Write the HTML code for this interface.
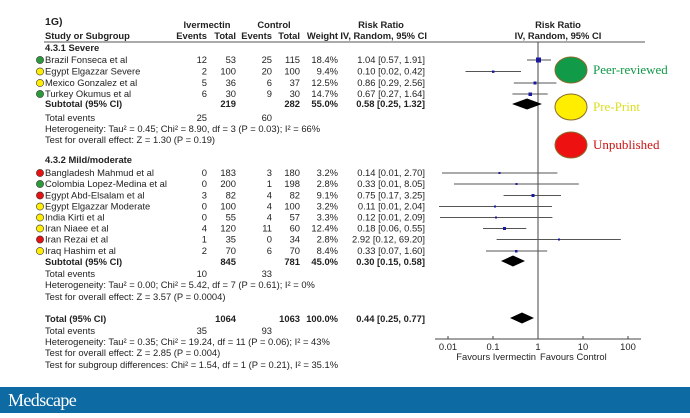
<!DOCTYPE html><html><head><style>body{margin:0;width:690px;height:413px;overflow:hidden;background:#fff}svg text{font-family:"Liberation Sans",sans-serif;font-size:9.4px;fill:#222}.b{font-weight:bold}.r{text-anchor:end}.c{text-anchor:middle}</style></head><body>
<svg width="690" height="413" viewBox="0 0 690 413" xmlns="http://www.w3.org/2000/svg">
<text x="45" y="25" class="b" style="font-size:10.5px">1G)</text>
<text x="207" y="28" class="c b">Ivermectin</text>
<text x="274" y="28" class="c b">Control</text>
<text x="381" y="28" class="c b">Risk Ratio</text>
<text x="558" y="28" class="c b">Risk Ratio</text>
<text x="45" y="39" class="b">Study or Subgroup</text>
<text x="207" y="39" class="r b">Events</text><text x="236" y="39" class="r b">Total</text>
<text x="272" y="39" class="r b">Events</text><text x="300" y="39" class="r b">Total</text>
<text x="338" y="39" class="r b">Weight</text><text x="427" y="39" class="r b">IV, Random, 95% CI</text>
<text x="558" y="39" class="c b">IV, Random, 95% CI</text>
<line x1="44" y1="42" x2="645" y2="42" stroke="#555" stroke-width="1"/>
<line x1="538" y1="42" x2="538" y2="339" stroke="#444" stroke-width="1"/>
<text x="45" y="51" class="b">4.3.1 Severe</text>
<text x="45" y="107" class="b">Subtotal (95% CI)</text><text x="236" y="107" class="r b">219</text><text x="300" y="107" class="r b">282</text><text x="338" y="107" class="r b">55.0%</text><text x="425" y="107" class="r b">0.58 [0.25, 1.32]</text>
<text x="45" y="121">Total events</text><text x="207" y="121" class="r">25</text><text x="272" y="121" class="r">60</text>
<text x="45" y="132">Heterogeneity: Tau² = 0.45; Chi² = 8.90, df = 3 (P = 0.03); I² = 66%</text>
<text x="45" y="143">Test for overall effect: Z = 1.30 (P = 0.19)</text>
<text x="45" y="163" class="b">4.3.2 Mild/moderate</text>
<text x="45" y="265" class="b">Subtotal (95% CI)</text><text x="236" y="265" class="r b">845</text><text x="300" y="265" class="r b">781</text><text x="338" y="265" class="r b">45.0%</text><text x="425" y="265" class="r b">0.30 [0.15, 0.58]</text>
<text x="45" y="277">Total events</text><text x="207" y="277" class="r">10</text><text x="272" y="277" class="r">33</text>
<text x="45" y="288">Heterogeneity: Tau² = 0.00; Chi² = 5.42, df = 7 (P = 0.61); I² = 0%</text>
<text x="45" y="300">Test for overall effect: Z = 3.57 (P = 0.0004)</text>
<text x="45" y="322" class="b">Total (95% CI)</text><text x="236" y="322" class="r b">1064</text><text x="300" y="322" class="r b">1063</text><text x="338" y="322" class="r b">100.0%</text><text x="425" y="322" class="r b">0.44 [0.25, 0.77]</text>
<text x="45" y="334">Total events</text><text x="207" y="334" class="r">35</text><text x="272" y="334" class="r">93</text>
<text x="45" y="345">Heterogeneity: Tau² = 0.35; Chi² = 19.24, df = 11 (P = 0.06); I² = 43%</text>
<text x="45" y="356">Test for overall effect: Z = 2.85 (P = 0.004)</text>
<text x="45" y="368">Test for subgroup differences: Chi² = 1.54, df = 1 (P = 0.21), I² = 35.1%</text>

<g>
<circle cx="40" cy="60" r="3.6" fill="#2a9a3a" stroke="#333" stroke-width=".6"/><text x="45" y="63">Brazil Fonseca et al</text><text x="207" y="63" class="r">12</text><text x="236" y="63" class="r">53</text><text x="272" y="63" class="r">25</text><text x="300" y="63" class="r">115</text><text x="338" y="63" class="r">18.4%</text><text x="425" y="63" class="r">1.04 [0.57, 1.91]</text>
<circle cx="40" cy="71.5" r="3.6" fill="#ffee00" stroke="#333" stroke-width=".6"/><text x="45" y="74.5">Egypt Elgazzar Severe</text><text x="207" y="74.5" class="r">2</text><text x="236" y="74.5" class="r">100</text><text x="272" y="74.5" class="r">20</text><text x="300" y="74.5" class="r">100</text><text x="338" y="74.5" class="r">9.4%</text><text x="425" y="74.5" class="r">0.10 [0.02, 0.42]</text>
<circle cx="40" cy="83" r="3.6" fill="#ffee00" stroke="#333" stroke-width=".6"/><text x="45" y="86">Mexico Gonzalez et al</text><text x="207" y="86" class="r">5</text><text x="236" y="86" class="r">36</text><text x="272" y="86" class="r">6</text><text x="300" y="86" class="r">37</text><text x="338" y="86" class="r">12.5%</text><text x="425" y="86" class="r">0.86 [0.29, 2.56]</text>
<circle cx="40" cy="94" r="3.6" fill="#2a9a3a" stroke="#333" stroke-width=".6"/><text x="45" y="97">Turkey Okumus et al</text><text x="207" y="97" class="r">6</text><text x="236" y="97" class="r">30</text><text x="272" y="97" class="r">9</text><text x="300" y="97" class="r">30</text><text x="338" y="97" class="r">14.7%</text><text x="425" y="97" class="r">0.67 [0.27, 1.64]</text>

<circle cx="40" cy="173" r="3.6" fill="#e81010" stroke="#333" stroke-width=".6"/><text x="45" y="176">Bangladesh Mahmud et al</text><text x="207" y="176" class="r">0</text><text x="236" y="176" class="r">183</text><text x="272" y="176" class="r">3</text><text x="300" y="176" class="r">180</text><text x="338" y="176" class="r">3.2%</text><text x="425" y="176" class="r">0.14 [0.01, 2.70]</text>
<circle cx="40" cy="184" r="3.6" fill="#2a9a3a" stroke="#333" stroke-width=".6"/><text x="45" y="187">Colombia Lopez-Medina et al</text><text x="207" y="187" class="r">0</text><text x="236" y="187" class="r">200</text><text x="272" y="187" class="r">1</text><text x="300" y="187" class="r">198</text><text x="338" y="187" class="r">2.8%</text><text x="425" y="187" class="r">0.33 [0.01, 8.05]</text>
<circle cx="40" cy="195.5" r="3.6" fill="#e81010" stroke="#333" stroke-width=".6"/><text x="45" y="198.5">Egypt Abd-Elsalam et al</text><text x="207" y="198.5" class="r">3</text><text x="236" y="198.5" class="r">82</text><text x="272" y="198.5" class="r">4</text><text x="300" y="198.5" class="r">82</text><text x="338" y="198.5" class="r">9.1%</text><text x="425" y="198.5" class="r">0.75 [0.17, 3.25]</text>
<circle cx="40" cy="206.5" r="3.6" fill="#ffee00" stroke="#333" stroke-width=".6"/><text x="45" y="209.5">Egypt Elgazzar Moderate</text><text x="207" y="209.5" class="r">0</text><text x="236" y="209.5" class="r">100</text><text x="272" y="209.5" class="r">4</text><text x="300" y="209.5" class="r">100</text><text x="338" y="209.5" class="r">3.2%</text><text x="425" y="209.5" class="r">0.11 [0.01, 2.04]</text>
<circle cx="40" cy="217.5" r="3.6" fill="#ffee00" stroke="#333" stroke-width=".6"/><text x="45" y="220.5">India Kirti et al</text><text x="207" y="220.5" class="r">0</text><text x="236" y="220.5" class="r">55</text><text x="272" y="220.5" class="r">4</text><text x="300" y="220.5" class="r">57</text><text x="338" y="220.5" class="r">3.3%</text><text x="425" y="220.5" class="r">0.12 [0.01, 2.09]</text>
<circle cx="40" cy="228.5" r="3.6" fill="#ffee00" stroke="#333" stroke-width=".6"/><text x="45" y="231.5">Iran Niaee et al</text><text x="207" y="231.5" class="r">4</text><text x="236" y="231.5" class="r">120</text><text x="272" y="231.5" class="r">11</text><text x="300" y="231.5" class="r">60</text><text x="338" y="231.5" class="r">12.4%</text><text x="425" y="231.5" class="r">0.18 [0.06, 0.55]</text>
<circle cx="40" cy="239.5" r="3.6" fill="#e81010" stroke="#333" stroke-width=".6"/><text x="45" y="242.5">Iran Rezai et al</text><text x="207" y="242.5" class="r">1</text><text x="236" y="242.5" class="r">35</text><text x="272" y="242.5" class="r">0</text><text x="300" y="242.5" class="r">34</text><text x="338" y="242.5" class="r">2.8%</text><text x="425" y="242.5" class="r">2.92 [0.12, 69.20]</text>
<circle cx="40" cy="251" r="3.6" fill="#ffee00" stroke="#333" stroke-width=".6"/><text x="45" y="254">Iraq Hashim et al</text><text x="207" y="254" class="r">2</text><text x="236" y="254" class="r">70</text><text x="272" y="254" class="r">6</text><text x="300" y="254" class="r">70</text><text x="338" y="254" class="r">8.4%</text><text x="425" y="254" class="r">0.33 [0.07, 1.60]</text>
</g>

<g stroke="#555" stroke-width="0.9">
<line x1="527" y1="60" x2="551" y2="60"/>
<line x1="465.5" y1="71.5" x2="521" y2="71.5"/>
<line x1="513.8" y1="83" x2="556.4" y2="83"/>
<line x1="512.4" y1="94" x2="547.7" y2="94"/>
<line x1="442" y1="173" x2="557.4" y2="173"/>
<line x1="454" y1="184" x2="578.8" y2="184"/>
<line x1="503.6" y1="195.5" x2="561" y2="195.5"/>
<line x1="439" y1="206.5" x2="552" y2="206.5"/>
<line x1="440" y1="217.5" x2="552.4" y2="217.5"/>
<line x1="483" y1="228.5" x2="526.3" y2="228.5"/>
<line x1="496.6" y1="239.5" x2="620.8" y2="239.5"/>
<line x1="486" y1="251" x2="547.2" y2="251"/>
</g>
<g fill="#1a1aa0">
<rect x="536" y="57.5" width="5" height="5"/>
<rect x="492" y="70.5" width="2.4" height="2.4"/>
<rect x="533.5" y="81.5" width="3" height="3"/>
<rect x="528.5" y="92.5" width="3.5" height="3.5"/>
<rect x="498.5" y="172" width="2" height="2"/>
<rect x="515.5" y="183" width="2" height="2"/>
<rect x="531.5" y="194" width="3" height="3"/>
<rect x="494" y="205.5" width="2" height="2"/>
<rect x="495" y="216.5" width="2" height="2"/>
<rect x="503" y="227" width="3" height="3"/>
<rect x="558" y="238.5" width="2" height="2"/>
<rect x="515" y="250" width="2.5" height="2.5"/>
</g>
<g fill="#000">
<polygon points="512,104 527,98.5 542,104 527,109.5"/>
<polygon points="501,261 513,255.5 525,261 513,266.5"/>
<polygon points="510,318 522,312.5 534,318 522,323.5"/>
</g>
<line x1="435" y1="339" x2="641" y2="339" stroke="#444" stroke-width="1"/>
<g stroke="#444"><line x1="448" y1="336" x2="448" y2="339"/><line x1="493" y1="336" x2="493" y2="339"/><line x1="538" y1="336" x2="538" y2="339"/><line x1="583" y1="336" x2="583" y2="339"/><line x1="628" y1="336" x2="628" y2="339"/></g>
<text x="448" y="350" class="c">0.01</text><text x="493" y="350" class="c">0.1</text><text x="538" y="350" class="c">1</text><text x="583" y="350" class="c">10</text><text x="628" y="350" class="c">100</text>
<text x="536" y="360" class="r">Favours Ivermectin</text><text x="540" y="360">Favours Control</text>
<ellipse cx="571" cy="70" rx="16" ry="13" fill="#119a48" stroke="#8a6a2a" stroke-width="1"/>
<ellipse cx="571" cy="107" rx="16" ry="13" fill="#ffee00" stroke="#8a6a2a" stroke-width="1"/>
<ellipse cx="571" cy="145" rx="16" ry="13" fill="#ee1111" stroke="#8a6a2a" stroke-width="1"/>
<text x="593" y="74" style="font-family:'Liberation Serif',serif;font-size:13px;fill:#119a48">Peer-reviewed</text>
<text x="593" y="111" style="font-family:'Liberation Serif',serif;font-size:13px;fill:#dddd20">Pre-Print</text>
<text x="593" y="149" style="font-family:'Liberation Serif',serif;font-size:13px;fill:#cc1111">Unpublished</text>
<rect x="0" y="387" width="690" height="26" fill="#0d6aa3"/>
<text x="8" y="406" style="font-family:'Liberation Serif',serif;font-size:18px;fill:#fff;letter-spacing:-0.6px">Medscape</text>
</svg></body></html>
